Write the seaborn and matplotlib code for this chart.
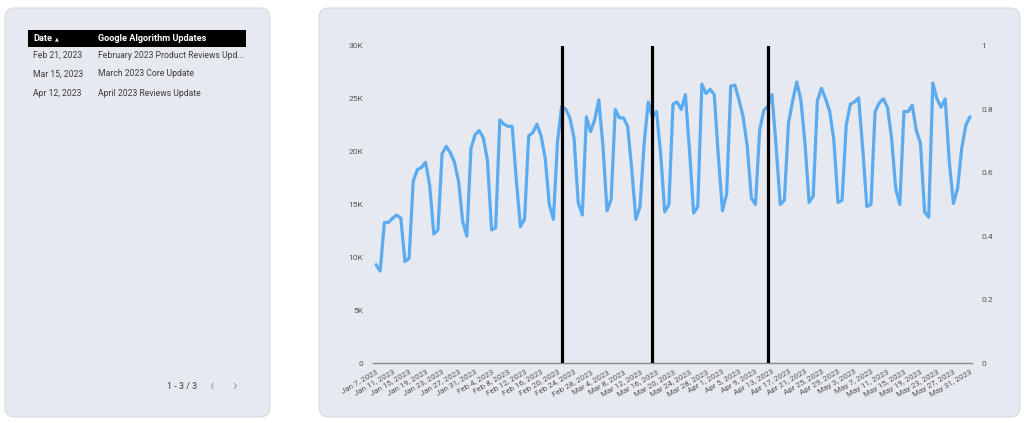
import matplotlib
matplotlib.use("Agg")
import matplotlib.pyplot as plt
from matplotlib.patches import FancyBboxPatch
import numpy as np
import pandas as pd
import seaborn as sns

# data
start_date = "2023-01-07"
end_date = "2023-05-31"
traffic = [
    9300, 8700,
    13300, 13300, 13700, 14000, 13700, 9600, 9900,
    17200, 18300, 18500, 19000, 16800, 12200, 12600,
    19800, 20500, 19900, 19000, 17200, 13400, 12000,
    20300, 21600, 22000, 21300, 19200, 12600, 12800,
    23000, 22600, 22400, 22400, 17300, 12900, 13600,
    21500, 21800, 22600, 21500, 19400, 15000, 13600,
    21000, 24300, 24000, 23200, 21300, 15200, 14000,
    23300, 21900, 23000, 24900, 20600, 14400, 15500,
    24000, 23200, 23200, 22400, 18300, 13600, 14800,
    20800, 24700, 23300, 23800, 19800, 14300, 15000,
    24500, 24700, 24000, 25400, 20100, 14200, 14800,
    26400, 25500, 25900, 25400, 19500, 14400, 16000,
    26200, 26300, 24900, 23300, 20500, 15600, 15000,
    22000, 23900, 24300, 25400, 20500, 15000, 15400,
    22700, 24800, 26600, 24900, 20800, 15200, 15800,
    24800, 26000, 25000, 23800, 21100, 15200, 15400,
    22500, 24500, 24700, 25100, 20300, 14800, 15000,
    23800, 24600, 25000, 24200, 21300, 16500, 15000,
    23800, 23800, 24400, 22000, 20800, 14300, 13800,
    26500, 25000, 24200, 25000, 19000, 15100, 16500,
    20300, 22500, 23300,
]
update_dates = ["2023-02-21", "2023-03-15", "2023-04-12"]
update_labels = ["Feb 21, 2023", "Mar 15, 2023", "Apr 12, 2023"]
update_names = [
    "February 2023 Product Reviews Upd...",
    "March 2023 Core Update",
    "April 2023 Reviews Update",
]
left_ticks = [0, 5000, 10000, 15000, 20000, 25000, 30000]
left_tick_labels = ["0", "5K", "10K", "15K", "20K", "25K", "30K"]
right_ticks = [0, 0.2, 0.4, 0.6, 0.8, 1.0]
right_tick_labels = ["0", "0.2", "0.4", "0.6", "0.8", "1"]

W, H = 1024, 423
PANEL = "#e6e9ef"
LINE = "#5aabf0"
TXT = "#3c3c3c"

sns.set_theme(style="white")
plt.rcParams["font.family"] = ["Roboto", "DejaVu Sans"]

df = pd.DataFrame({"date": pd.date_range(start_date, end_date, freq="D"), "traffic": traffic})

fig = plt.figure(figsize=(W / 100, H / 100), dpi=100)
fig.patch.set_facecolor("white")


def px(x, y):
    # pixel (top-left origin) -> inches for dpi_scale_trans
    return x / 100, (H - y) / 100


def panel(x0, y0, x1, y1):
    (a, b), (c, d) = px(x0, y1), px(x1, y0)
    fig.add_artist(FancyBboxPatch((a, b), c - a, d - b,
                                  boxstyle="round,pad=0,rounding_size=0.1",
                                  transform=fig.dpi_scale_trans, zorder=-10,
                                  facecolor=PANEL, edgecolor="#d6d9df", lw=0.8))


panel(5, 8, 270, 417)
panel(319, 8, 1020, 417)

# table on the left panel
hx0, hy0 = px(28, 47)
hx1, hy1 = px(246, 30)
fig.add_artist(FancyBboxPatch((hx0, hy0), hx1 - hx0, hy1 - hy0, boxstyle="square,pad=0",
                              transform=fig.dpi_scale_trans, facecolor="black", edgecolor="none",
                              zorder=-5))
fig.text(33 / W, 1 - 38.5 / H, "Date", color="white", fontsize=6.6, fontweight="bold", va="center")
fig.text(55 / W, 1 - 38.5 / H, "▲", color="white", fontsize=3.5, va="center")
fig.text(98 / W, 1 - 38.5 / H, "Google Algorithm Updates", color="white", fontsize=6.6,
         fontweight="bold", va="center")
for i, (dl, nm) in enumerate(zip(update_labels, update_names)):
    yy = 1 - (55 + 19 * i) / H
    fig.text(33 / W, yy, dl, color=TXT, fontsize=6.2, va="center")
    fig.text(98 / W, yy, nm, color=TXT, fontsize=6.2, va="center")
fig.text(167 / W, 1 - 386 / H, "1 - 3 / 3", color=TXT, fontsize=6.4, va="center")
fig.text(209 / W, 1 - 386 / H, "‹", color="#9a9a9a", fontsize=11, va="center")
fig.text(232 / W, 1 - 386 / H, "›", color="#9a9a9a", fontsize=11, va="center")

# line chart
ax = fig.add_axes([373 / W, 1 - 363 / H, (972 - 373) / W, (363 - 46) / H])
ax.set_facecolor("none")
sns.lineplot(data=df, x="date", y="traffic", ax=ax, color=LINE, lw=2.3,
             solid_joinstyle="round", solid_capstyle="round")
for d in update_dates:
    ax.axvline(pd.Timestamp(d), color="black", lw=2.3, zorder=3)

ax.set_ylim(0, 30000)
ax.set_xlim(df["date"].iloc[0] - pd.Timedelta(hours=18), df["date"].iloc[-1] + pd.Timedelta(hours=12))
ax.set_yticks(left_ticks)
ax.set_yticklabels(left_tick_labels)
tick_dates = df["date"].iloc[::4]
ax.set_xticks(tick_dates)
ax.set_xticklabels([f"{d:%b} {d.day}, {d.year}" for d in tick_dates], rotation=30,
                   ha="right", rotation_mode="anchor")
ax.tick_params(axis="x", labelsize=5.8, colors="#555555", length=0, pad=4)
ax.tick_params(axis="y", labelsize=6, colors="#555555", length=0, pad=7)
ax.set_xlabel("")
ax.set_ylabel("")
for s in ["top", "left", "right"]:
    ax.spines[s].set_visible(False)
ax.spines["bottom"].set_color("#8a8a8a")
ax.spines["bottom"].set_linewidth(1)

ax2 = ax.twinx()
ax2.set_ylim(0, 1)
ax2.set_yticks(right_ticks)
ax2.set_yticklabels(right_tick_labels)
ax2.tick_params(axis="y", labelsize=6, colors="#555555", length=0, pad=7)
for s in ax2.spines.values():
    s.set_visible(False)

fig.savefig("out.png", dpi=100, facecolor="white")
